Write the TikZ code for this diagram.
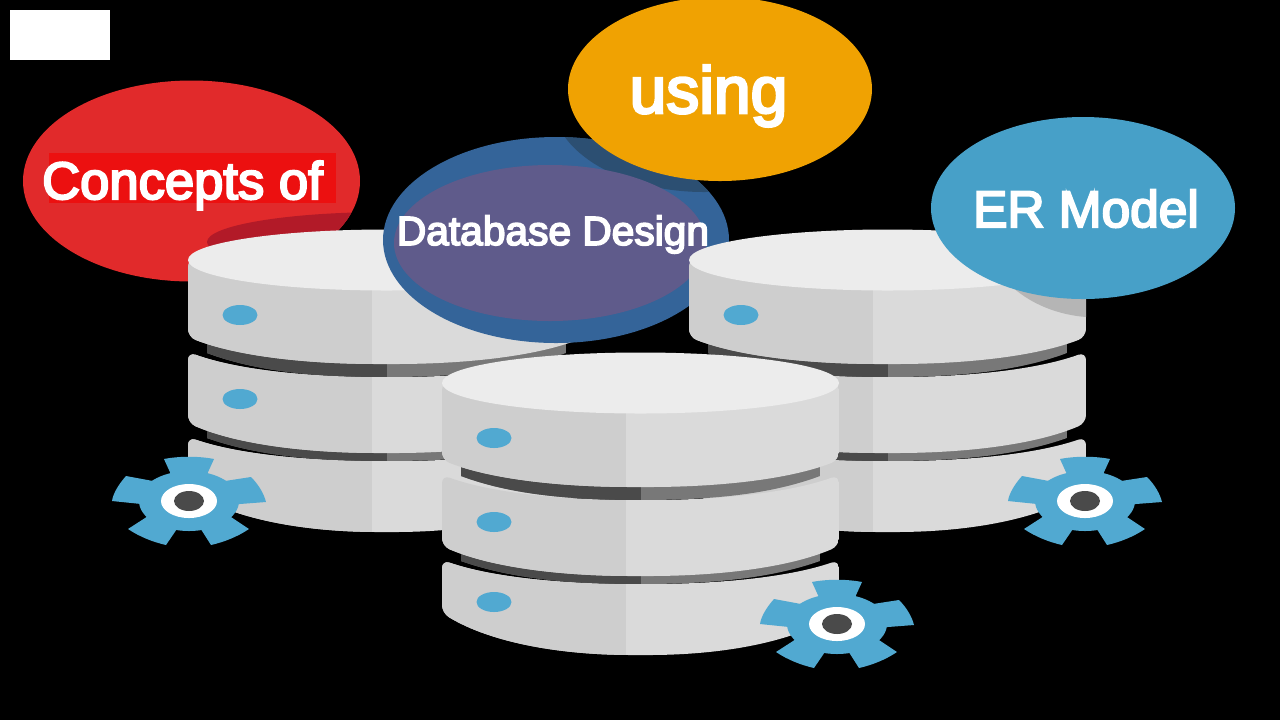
\documentclass[tikz,border=0pt]{standalone}
\usepackage{fontspec}
\usepackage{xcolor}
\newfontfamily\bubblefont[FakeBold=4]{Liberation Sans}

\definecolor{redbubble}{HTML}{E12A2B}
\definecolor{redmark}{HTML}{EC1010}
\definecolor{redshade}{HTML}{B21A28}
\definecolor{bluebubble}{HTML}{346499}
\definecolor{blueshade}{HTML}{2C4F72}
\definecolor{purplebubble}{HTML}{5F5B8B}
\definecolor{orangebubble}{HTML}{F0A202}
\definecolor{skybubble}{HTML}{47A0C8}
\definecolor{disktop}{HTML}{ECECEC}
\definecolor{diskleft}{HTML}{CECECE}
\definecolor{diskright}{HTML}{DADADA}
\definecolor{diskshade}{HTML}{B5B5B5}
\definecolor{bandleft}{HTML}{4A4A4A}
\definecolor{bandright}{HTML}{787878}
\definecolor{ledblue}{HTML}{51A9D1}

% one disk of a stack: top y, top sag, bottom y, bottom sag
\newcommand{\dbdisk}[4]{
	\begin{scope}
		\clip[rounded corners=4pt] (0,#1)
		.. controls (50,{#1+0.72*#2}) and (120,{#1+#2}) .. (198.5,{#1+#2})
		.. controls (277,{#1+#2}) and (347,{#1+0.72*#2}) .. (397,#1)
		-- (397,#3)
		.. controls (347,{#3+0.72*#4}) and (277,{#3+#4}) .. (198.5,{#3+#4})
		.. controls (120,{#3+#4}) and (50,{#3+0.72*#4}) .. (0,#3)
		-- cycle;
		\fill[diskright] (0,{#1-2}) rectangle (397,{#3+#4+2});
		\fill[diskleft] (0,{#1-2}) rectangle (184,{#3+#4+2});
	\end{scope}
}

% dark slot between two disks: y at end (upper, lower), y at middle (upper, lower)
\newcommand{\dbband}[4]{
	\begin{scope}
		\clip (19,#1)
		.. controls (70,{#3-5}) and (130,#3) .. (198.5,#3)
		.. controls (267,#3) and (327,{#3-5}) .. (378,#1)
		-- (378,#2)
		.. controls (327,{#4-5}) and (267,#4) .. (198.5,#4)
		.. controls (130,#4) and (70,{#4-5}) .. (19,#2)
		-- cycle;
		\fill[bandright] (19,#1) rectangle (378,#4);
		\fill[bandleft] (19,#1) rectangle (199,#4);
	\end{scope}
}

% whole stack: x, y of the left edge, then the heights of its lights
\newcommand{\dbstack}[3]{
	\begin{scope}[shift={(#1,#2)}]
		\dbdisk{177}{24}{230}{42}
		\dbband{165}{178}{188}{201}
		\dbdisk{92}{25}{163}{30}
		\dbband{78}{93}{98}{117}
		\dbdisk{-1}{0}{77}{27}
		\fill[disktop] (198.5,0) ellipse [x radius=198.5, y radius=30.5];
		\foreach \ledy in {#3}
		\fill[ledblue] (52,\ledy) ellipse [x radius=17.5, y radius=10];
	\end{scope}
}

\newcommand{\dbgear}[2]{
	\begin{scope}[shift={(#1,#2)}]
		\fill[ledblue] (0,0) ellipse [x radius=50, y radius=30];
		\fill[ledblue] (-15,-20) -- (-25,-42) .. controls (-10,-45) and (10,-45) .. (25,-42) -- (15,-20) -- cycle;
		\fill[ledblue] (36,-20) -- (62,-24) .. controls (70,-16) and (75,-7) .. (77,1) -- (38,4) -- cycle;
		\fill[ledblue] (-36,-20) -- (-63,-25) .. controls (-71,-16) and (-76,-7) .. (-77,0) -- (-38,4) -- cycle;
		\fill[ledblue] (30,8) -- (60,28) .. controls (48,36) and (35,41) .. (22,44) -- (8,22) -- cycle;
		\fill[ledblue] (-30,8) -- (-61,28) .. controls (-49,36) and (-36,41) .. (-23,44) -- (-8,22) -- cycle;
		\fill[white] (0,0) ellipse [x radius=28, y radius=17];
		\fill[bandleft] (0,0) ellipse [x radius=15, y radius=10];
	\end{scope}
}

\begin{document}
\begin{tikzpicture}[
		x=0.5pt, y=-0.5pt,
		bubbletext/.style={text=white, inner sep=0pt, anchor=base}
		]
		
		% ==========================================
		% BACKGROUND
		% ==========================================
		\fill[black] (0,0) rectangle (1280,720);
		\useasboundingbox (0,0) rectangle (1280,720);
		\fill[white] (10,10) rectangle (110,60);
		
		% ==========================================
		% RED BUBBLE
		% ==========================================
		\fill[redbubble] (191.5,181) ellipse [x radius=168.5, y radius=100.5];
		\fill[redmark] (49,153) rectangle (336,203);
		\begin{scope}
			\clip (191.5,181) ellipse [x radius=168.5, y radius=100.5];
			\fill[redshade] (387,242) ellipse [x radius=180, y radius=30];
		\end{scope}
		
		% ==========================================
		% LEFT STACK, BLUE BUBBLE
		% ==========================================
		\dbstack{188}{260}{55,139}
		\fill[bluebubble] (556,240) ellipse [x radius=173, y radius=103];
		\begin{scope}
			\clip (556,240) ellipse [x radius=173, y radius=103];
			\fill[blueshade] (704,100) ellipse [x radius=152, y radius=92];
		\end{scope}
		\fill[purplebubble] (550,243) ellipse [x radius=156, y radius=78];
		
		% ==========================================
		% RIGHT AND FRONT STACKS
		% ==========================================
		\dbstack{689}{260}{55}
		\fill[diskshade] (1008,283) .. controls (1030,305) and (1060,315) .. (1086,317) -- (1086,285) -- cycle;
		\dbstack{442}{383}{55,139,219}
		
		% ==========================================
		% TOP BUBBLES
		% ==========================================
		\fill[orangebubble] (720,89) ellipse [x radius=152, y radius=92];
		\fill[skybubble] (1083,208) ellipse [x radius=152, y radius=91];
		
		% ==========================================
		% GEARS
		% ==========================================
		\dbgear{189}{501}
		\dbgear{1085}{501}
		\dbgear{837}{624}
		
		% ==========================================
		% TEXTS
		% ==========================================
		\node[bubbletext, font=\bubblefont\fontsize{26.3}{30}\selectfont] (concepts) at (182.5,199) {Concepts of};
		\node[bubbletext, font=\bubblefont\fontsize{20.35}{24}\selectfont] (database) at (553,245) {Database Design};
		\node[bubbletext, font=\bubblefont\fontsize{33}{38}\selectfont] (using) at (708.5,113) {using};
		\node[bubbletext, font=\bubblefont\fontsize{25.7}{30}\selectfont] (ermodel) at (1086,227) {ER Model};
		
	\end{tikzpicture}
\end{document}
